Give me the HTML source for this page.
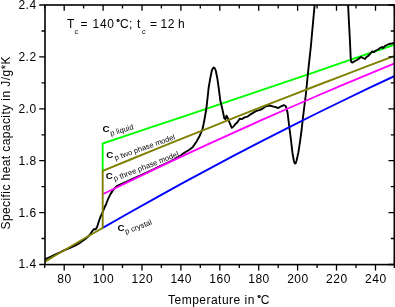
<!DOCTYPE html>
<html><head><meta charset="utf-8"><title>Specific heat capacity</title>
<style>
html,body{margin:0;padding:0;background:#fff;}
body{width:395px;height:307px;overflow:hidden;}
svg{display:block;}
text{font-family:"Liberation Sans",Arial,sans-serif;font-size:12px;fill:#000;}
.lb{font-size:9.8px;font-weight:bold;}
.sb{font-size:7.6px;}
.sub{font-size:7px;}
.tk{letter-spacing:0.5px;}
.dg{font-size:8px;font-weight:bold;stroke:#000;stroke-width:0.5;}
.c{fill:none;stroke-width:1.9;stroke-linejoin:round;stroke-linecap:butt;}
</style></head><body>
<svg width="395" height="307" viewBox="0 0 395 307">
<rect width="395" height="307" fill="#fff"/>
<defs><clipPath id="cp"><rect x="45.0" y="5.0" width="351.3" height="259.6"/></clipPath></defs>
<g clip-path="url(#cp)">
<polyline class="c" stroke="#00ff00" points="102.7,171.9 102.7,143.5 129.3,134.6 155.9,125.7 182.5,116.8 209.1,107.9 235.7,98.9 262.3,89.9 288.9,80.8 315.5,71.8 342.1,62.7 368.7,53.5 395.3,44.4"/>
<polyline class="c" stroke-width="1.75" stroke="#000" points="45.0,259.3 50.0,257.0 55.0,254.6 60.0,252.4 65.0,249.9 70.0,247.9 75.0,245.6 80.0,242.8 85.0,239.3 88.0,236.7 90.1,234.4 92.0,231.5 93.7,229.3 95.7,229.3 97.2,226.8 98.5,222.5 100.3,217.2 102.6,212.5 104.5,207.5 106.2,204.0 108.0,199.2 110.6,193.9 113.6,189.4 116.7,186.2 120.0,184.7 124.0,182.8 128.0,181.0 132.0,179.2 136.0,177.4 140.0,175.7 146.0,172.8 152.0,170.0 158.0,167.1 164.0,164.3 170.0,161.5 175.0,159.1 179.6,156.4 182.0,154.4 185.2,152.3 189.4,149.8 192.9,146.9 196.4,141.8 199.6,136.0 201.2,132.3 202.5,129.0 203.6,124.0 204.7,118.3 205.6,113.0 206.5,107.5 207.2,101.0 207.9,95.0 208.6,88.0 210.3,78.2 211.7,71.2 212.7,68.5 213.8,67.6 214.9,68.5 215.9,71.2 217.3,78.2 218.7,88.0 220.3,100.5 222.2,108.4 224.3,118.2 225.5,119.2 226.5,115.6 227.8,118.0 229.9,123.5 231.8,127.8 233.0,127.0 234.8,124.8 237.4,122.3 239.7,118.8 241.8,119.1 244.6,117.4 247.4,116.7 250.2,114.6 253.0,112.9 255.8,111.1 259.3,110.1 262.1,109.0 265.6,106.4 269.8,105.5 272.6,106.3 274.8,106.9 278.3,108.0 281.1,106.3 283.9,105.2 285.6,106.0 286.6,108.3 287.6,113.0 288.8,123.0 290.2,134.0 291.2,142.0 292.4,152.4 293.8,160.5 294.6,163.0 295.2,163.6 295.8,163.0 296.6,160.5 298.4,152.4 300.1,141.2 301.6,130.0 302.8,118.8 304.9,102.0 305.9,94.0 308.3,70.0 310.8,47.0 312.8,25.0 314.8,3.0"/>
<polyline class="c" stroke-width="1.75" stroke="#000" points="348.0,3.0 349.1,25.0 349.9,40.0 350.7,58.0 351.1,61.5 352.2,62.6 353.5,62.0 355.0,61.0 357.0,60.0 359.0,58.5 361.0,57.0 363.0,58.0 365.0,59.0 366.0,57.5 368.0,56.0 370.0,54.0 372.0,51.5 374.0,52.0 376.0,50.5 378.0,49.5 380.0,48.0 382.0,47.0 383.0,48.0 385.0,46.0 387.0,45.0 389.0,44.0 392.0,43.5 395.0,42.8"/>
<polyline class="c" stroke="#0000ff" points="102.7,227.9 129.3,212.7 155.9,197.8 182.5,183.1 209.1,168.8 235.7,154.7 262.3,140.8 288.9,127.3 315.5,114.0 342.1,101.0 368.7,88.2 395.3,75.7"/>
<polyline class="c" stroke="#ff00ff" points="103.2,194.0 129.8,181.1 156.3,168.4 182.9,155.9 209.4,143.7 236.0,131.6 262.5,119.7 289.1,108.0 315.6,96.5 342.2,85.2 368.7,74.1 395.3,63.2"/>
<polyline class="c" stroke="#808000" points="45.0,261.7 56.5,254.8 68.1,248.0 79.6,241.2 91.2,234.5 102.7,227.9 102.7,170.9 129.3,160.0 155.9,149.2 182.5,138.4 209.1,127.8 235.7,117.2 262.3,106.7 288.9,96.3 315.5,86.0 342.1,75.8 368.7,65.7 395.3,55.7"/>
</g>
<path d="M44.7,264.6v3.5M44.7,5.0v3.5M64.2,264.6v5.8M64.2,5.0v5.8M83.6,264.6v3.5M83.6,5.0v3.5M103.1,264.6v5.8M103.1,5.0v5.8M122.5,264.6v3.5M122.5,5.0v3.5M142.0,264.6v5.8M142.0,5.0v5.8M161.4,264.6v3.5M161.4,5.0v3.5M180.9,264.6v5.8M180.9,5.0v5.8M200.3,264.6v3.5M200.3,5.0v3.5M219.8,264.6v5.8M219.8,5.0v5.8M239.3,264.6v3.5M239.3,5.0v3.5M258.7,264.6v5.8M258.7,5.0v5.8M278.2,264.6v3.5M278.2,5.0v3.5M297.6,264.6v5.8M297.6,5.0v5.8M317.1,264.6v3.5M317.1,5.0v3.5M336.5,264.6v5.8M336.5,5.0v5.8M356.0,264.6v3.5M356.0,5.0v3.5M375.5,264.6v5.8M375.5,5.0v5.8M394.3,264.6v3.5M394.3,5.0v3.5M45.0,264.5h-5.8M394.3,264.5h-5.8M45.0,238.5h-3.5M394.3,238.5h-3.5M45.0,212.6h-5.8M394.3,212.6h-5.8M45.0,186.6h-3.5M394.3,186.6h-3.5M45.0,160.7h-5.8M394.3,160.7h-5.8M45.0,134.8h-3.5M394.3,134.8h-3.5M45.0,108.8h-5.8M394.3,108.8h-5.8M45.0,82.8h-3.5M394.3,82.8h-3.5M45.0,56.9h-5.8M394.3,56.9h-5.8M45.0,31.0h-3.5M394.3,31.0h-3.5M45.0,5.0h-5.8M394.3,5.0h-5.8" stroke="#000" stroke-width="1.3" fill="none"/>
<rect x="45.0" y="5.0" width="349.3" height="259.6" fill="none" stroke="#000" stroke-width="1.6"/>
<g><text class="tk" x="64.5" y="282.8" text-anchor="middle">80</text><text class="tk" x="103.4" y="282.8" text-anchor="middle">100</text><text class="tk" x="142.3" y="282.8" text-anchor="middle">120</text><text class="tk" x="181.2" y="282.8" text-anchor="middle">140</text><text class="tk" x="220.1" y="282.8" text-anchor="middle">160</text><text class="tk" x="259.0" y="282.8" text-anchor="middle">180</text><text class="tk" x="297.9" y="282.8" text-anchor="middle">200</text><text class="tk" x="336.8" y="282.8" text-anchor="middle">220</text><text class="tk" x="375.8" y="282.8" text-anchor="middle">240</text></g>
<g><text class="tk" x="36.6" y="268.4" text-anchor="end">1.4</text><text class="tk" x="36.6" y="216.5" text-anchor="end">1.6</text><text class="tk" x="36.6" y="164.6" text-anchor="end">1.8</text><text class="tk" x="36.6" y="112.7" text-anchor="end">2.0</text><text class="tk" x="36.6" y="60.8" text-anchor="end">2.2</text><text class="tk" x="36.6" y="8.9" text-anchor="end">2.4</text></g>
<g letter-spacing="0.45"><text x="66.9" y="28">T</text><text class="sub" x="74.6" y="33.5">c</text><text x="80.6" y="28">=</text><text x="92.5" y="28" letter-spacing="0.75">140</text><text class="dg" x="116.6" y="25">°</text><text x="120" y="28">C;</text><text x="137" y="28">t</text><text class="sub" x="142.1" y="33.5">c</text><text x="149.9" y="28">=</text><text x="160.4" y="28" letter-spacing="0.75">12</text><text x="178" y="28">h</text></g>
<text x="168" y="304" letter-spacing="0.49">Temperature in</text><text class="dg" x="257.5" y="301">°</text><text x="260.8" y="304">C</text>
<text transform="translate(9.6,229.5) rotate(-90)" letter-spacing="0.41">Specific heat capacity in J/g*K</text>
<text class="lb" x="102.6" y="132.2">C</text><g transform="translate(102.6,132.2) rotate(-16.5)"><text class="sb" x="6.9" y="6.0">p liquid</text></g><text class="lb" x="106.2" y="158.2">C</text><g transform="translate(106.2,158.2) rotate(-19.5)"><text class="sb" x="8.1" y="5.2">p two phase model</text></g><text class="lb" x="105.8" y="179.2">C</text><g transform="translate(105.8,179.2) rotate(-21.5)"><text class="sb" x="7.6" y="5.3">p three phase model</text></g><text class="lb" x="117.4" y="231.2">C</text><g transform="translate(117.4,231.2) rotate(-21)"><text class="sb" x="6.9" y="6.0">p crystal</text></g>
</svg>
</body></html>
